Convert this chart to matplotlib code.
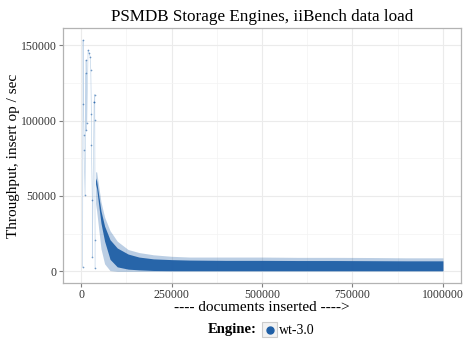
import numpy as np
import matplotlib.pyplot as plt
from matplotlib.patches import Rectangle
from matplotlib.ticker import MultipleLocator

plt.rcParams['font.family'] = ['Liberation Serif', 'DejaVu Serif']

# early samples (documents inserted, insert op / sec), in load order
early_x = [4000, 5500, 6400, 8300, 8300, 11000, 13800, 13800, 13800, 15700, 19300, 22000,
           25000, 26800, 28500, 28500, 31000, 31000, 36000, 36000, 37800, 37800, 38700, 38700]
early_y = [2900, 153400, 111300, 90300, 80300, 50500, 131500, 93600, 140100, 98100, 146700, 145000,
           142300, 133500, 104700, 83700, 47100, 9500, 112400, 112000, 117300, 100300, 20600, 2000]

# dense band of the steady state
band_x = [40000, 43000, 55000, 65000, 80000, 100000, 130000, 160000, 200000, 250000,
          300000, 400000, 500000, 600000, 700000, 800000, 900000, 1000000]
dense_hi = [62000, 60000, 40000, 30000, 21000, 15500, 11500, 9500, 8300, 7800,
            7500, 7300, 7300, 7200, 7200, 7100, 7000, 7000]
dense_lo = [58000, 55000, 32000, 20000, 8000, 3000, 1500, 1000, 600, 500,
            500, 500, 500, 500, 500, 500, 500, 500]
sparse_hi = [66000, 66000, 46000, 36000, 27000, 20000, 14500, 12500, 11000, 10000,
             9500, 9500, 9500, 9300, 9300, 9200, 9000, 9000]
sparse_lo = [45000, 40000, 15000, 5000, 500, 0, 0, 0, 0, 0,
             0, 0, 0, 0, 0, 0, 0, 0]

blue = '#1f5fa6'

fig = plt.figure(figsize=(4.74, 3.55), dpi=100)
ax = fig.add_axes([63 / 474, 1 - 283 / 355, (461 - 63) / 474, (283 - 28) / 355])

ax.plot(early_x, early_y, color='#a9c4e0', lw=0.5, alpha=0.7, zorder=2)
ax.scatter(early_x, early_y, s=1.5, color=blue, alpha=0.6, lw=0, zorder=3)
ax.fill_between(band_x, sparse_lo, sparse_hi, color=blue, alpha=0.3, lw=0, zorder=2)
ax.fill_between(band_x, dense_lo, dense_hi, color=blue, alpha=0.95, lw=0, zorder=3)

ax.set_xlim(-50000, 1050000)
ax.set_ylim(-7700, 161400)
ax.set_xticks([0, 250000, 500000, 750000, 1000000])
ax.set_yticks([0, 50000, 100000, 150000])
ax.ticklabel_format(style='plain', useOffset=False)
ax.xaxis.set_minor_locator(MultipleLocator(125000))
ax.yaxis.set_minor_locator(MultipleLocator(25000))
ax.grid(which='major', color='#ebebeb', lw=0.8)
ax.grid(which='minor', color='#f3f3f3', lw=0.5)
ax.set_axisbelow(True)
for s in ax.spines.values():
    s.set_color('#b3b3b3')
    s.set_linewidth(0.9)
ax.tick_params(which='major', length=3, color='#7f7f7f', labelsize=8.5, labelcolor='#333333', pad=1.5)
ax.tick_params(which='minor', length=0)

ax.set_title('PSMDB Storage Engines, iiBench data load', fontsize=12.3, pad=5)
ax.set_xlabel('---- documents inserted ---->', fontsize=11, labelpad=0)
ax.set_ylabel('Throughput, insert op / sec', fontsize=11)
ax.yaxis.set_label_coords(-0.108, 0.5)

# legend
fig.text(257 / 474, 1 - 330 / 355, 'Engine:', fontsize=10.5, fontweight='bold', ha='right', va='center')
fig.patches.append(Rectangle((262 / 474, 1 - 337 / 355), 15 / 474, 15 / 355, transform=fig.transFigure,
                             facecolor='#f2f2f2', edgecolor='#cccccc', lw=0.8))
fig.add_artist(plt.Line2D([269.5 / 474], [1 - 329.5 / 355], marker='o', ms=5, color=blue, transform=fig.transFigure))
fig.text(279 / 474, 1 - 330 / 355, 'wt-3.0', fontsize=10, ha='left', va='center')

fig.savefig('out.png', dpi=100)
